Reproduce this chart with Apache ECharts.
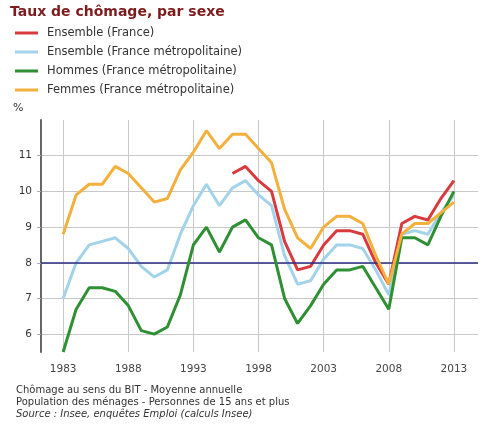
<!DOCTYPE html>
<html>
<head>
<meta charset="utf-8">
<script src="https://cdn.jsdelivr.net/npm/echarts@6/dist/echarts.min.js"></script>
<style>
html,body{margin:0;padding:0;background:#fff;}
#c{width:491px;height:430px;}
</style>
</head>
<body>
<div id="c"></div>
<script>
const years = [1983,1984,1985,1986,1987,1988,1989,1990,1991,1992,1993,1994,1995,1996,1997,1998,1999,2000,2001,2002,2003,2004,2005,2006,2007,2008,2009,2010,2011,2012,2013];
const franceYears = [1996,1997,1998,1999,2000,2001,2002,2003,2004,2005,2006,2007,2008,2009,2010,2011,2012,2013];
const ensembleFrance = [10.5,10.7,10.3,10.0,8.6,7.8,7.9,8.5,8.9,8.9,8.8,8.0,7.4,9.1,9.3,9.2,9.8,10.3];
const ensembleMetro = [7.0,8.0,8.5,8.6,8.7,8.4,7.9,7.6,7.8,8.8,9.6,10.2,9.6,10.1,10.3,9.9,9.6,8.2,7.4,7.5,8.1,8.5,8.5,8.4,7.8,7.1,8.8,8.9,8.8,9.4,9.9];
const hommesMetro = [5.5,6.7,7.3,7.3,7.2,6.8,6.1,6.0,6.2,7.1,8.5,9.0,8.3,9.0,9.2,8.7,8.5,7.0,6.3,6.8,7.4,7.8,7.8,7.9,7.3,6.7,8.7,8.7,8.5,9.3,10.0];
const femmesMetro = [8.8,9.9,10.2,10.2,10.7,10.5,10.1,9.7,9.8,10.6,11.1,11.7,11.2,11.6,11.6,11.2,10.8,9.5,8.7,8.4,9.0,9.3,9.3,9.1,8.2,7.4,8.8,9.1,9.1,9.4,9.7];
const xTicks = [1983,1988,1993,1998,2003,2008,2013];
const yTicks = [6,7,8,9,10,11];
const seriesNames = ['Ensemble (France)','Ensemble (France métropolitaine)','Hommes (France métropolitaine)','Femmes (France métropolitaine)'];
const refLine = 8;

const pair = (xs, vs) => xs.map((x, i) => [x, vs[i]]);
const font = 'DejaVu Sans';
const colors = ['#d83a3d', '#a3d3ea', '#2f8f33', '#f3b03c'];
const datasets = [pair(franceYears, ensembleFrance), pair(years, ensembleMetro), pair(years, hommesMetro), pair(years, femmesMetro)];

const chart = echarts.init(document.getElementById('c'));
chart.setOption({
  animation: false,
  backgroundColor: '#fff',
  title: {
    text: 'Taux de chômage, par sexe',
    left: 5, top: 0,
    textStyle: {fontFamily: font, fontSize: 14, fontWeight: 'bold', color: '#7d1c1c'}
  },
  legend: {
    orient: 'vertical',
    left: 15, top: 26, padding: 0,
    itemWidth: 23, itemHeight: 3, itemGap: 5,
    icon: 'rect',
    data: seriesNames,
    textStyle: {fontFamily: font, fontSize: 11.5, color: '#333', lineHeight: 14, padding: [0,0,0,4]}
  },
  grid: {left: 41, right: 13, top: 120, bottom: 78},
  xAxis: {
    type: 'value', min: 1981.3, max: 2014.85,
    axisLine: {show: false},
    axisTick: {show: false, customValues: xTicks},
    axisLabel: {customValues: xTicks, formatter: v => String(v), fontFamily: font, fontSize: 10.5, color: '#444', margin: 12},
    splitLine: {show: true, lineStyle: {color: '#c8c8c8', width: 1}}
  },
  yAxis: {
    type: 'value', min: 5.5, max: 12,
    axisLine: {show: true, lineStyle: {color: '#666', width: 2}},
    axisTick: {show: true, length: 4, customValues: yTicks, lineStyle: {color: '#aaa'}},
    axisLabel: {customValues: yTicks, formatter: v => String(v), fontFamily: font, fontSize: 10.5, color: '#333', margin: 9},
    splitLine: {show: true, lineStyle: {color: '#c8c8c8', width: 1}}
  },
  graphic: [
    {type: 'text', left: 13, top: 103, style: {text: '%', font: '11px "DejaVu Sans"', fill: '#333'}},
    {type: 'text', left: 16, top: 385, style: {text: 'Chômage au sens du BIT - Moyenne annuelle', font: '10px "DejaVu Sans"', fill: '#333'}},
    {type: 'text', left: 16, top: 397, style: {text: 'Population des ménages - Personnes de 15 ans et plus', font: '10px "DejaVu Sans"', fill: '#333'}},
    {type: 'text', left: 16, top: 409, style: {text: 'Source : Insee, enquêtes Emploi (calculs Insee)', font: 'italic 10px "DejaVu Sans"', fill: '#333'}}
  ],
  series: seriesNames.map((name, i) => {
    const s = {
      name, type: 'line', data: datasets[i],
      symbol: 'none', color: colors[i],
      lineStyle: {width: 3, color: colors[i]},
      z: 3 + i
    };
    if (i === 0) {
      s.markLine = {
        silent: true, symbol: 'none', label: {show: false},
        lineStyle: {color: '#2c2c82', width: 1.5, type: 'solid'},
        data: [{yAxis: refLine}]
      };
    }
    return s;
  })
});
</script>
</body>
</html>
